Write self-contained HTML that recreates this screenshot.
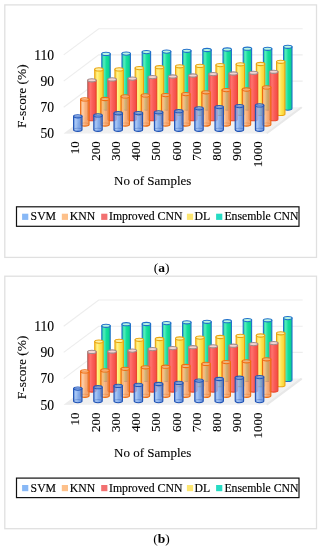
<!DOCTYPE html>
<html><head><meta charset="utf-8"><style>
html,body{margin:0;padding:0;background:#fff;width:323px;height:550px;overflow:hidden}
svg{display:block;will-change:transform}
.t{font-family:"Liberation Serif",serif;font-size:13px;fill:#000;stroke:#000;stroke-width:0.12px}
.l{font-family:"Liberation Serif",serif;font-size:11.75px;fill:#000;stroke:#000;stroke-width:0.15px}
.cap{font-family:"Liberation Serif",serif;font-size:13.5px;fill:#000}
</style></head><body>
<svg width="323" height="550" viewBox="0 0 323 550">
<defs><linearGradient id="fl" x1="0" y1="0" x2="0" y2="1"><stop offset="0" stop-color="#f3f3f3"/><stop offset="1" stop-color="#f0f0f0"/></linearGradient><linearGradient id="g0" x1="0" x2="1" y1="0" y2="0"><stop offset="0" stop-color="#5a90e6"/><stop offset="0.25" stop-color="#98bcf4"/><stop offset="0.55" stop-color="#6c9ce8"/><stop offset="1" stop-color="#4a7cd6"/></linearGradient><linearGradient id="g1" x1="0" x2="1" y1="0" y2="0"><stop offset="0" stop-color="#f7a060"/><stop offset="0.25" stop-color="#fcc496"/><stop offset="0.55" stop-color="#f89e5e"/><stop offset="1" stop-color="#f08a48"/></linearGradient><linearGradient id="g2" x1="0" x2="1" y1="0" y2="0"><stop offset="0" stop-color="#ee4c48"/><stop offset="0.3" stop-color="#ff726e"/><stop offset="0.6" stop-color="#f95c58"/><stop offset="1" stop-color="#f04a44"/></linearGradient><linearGradient id="g3" x1="0" x2="1" y1="0" y2="0"><stop offset="0" stop-color="#fcd23a"/><stop offset="0.3" stop-color="#fff28a"/><stop offset="0.6" stop-color="#ffe450"/><stop offset="1" stop-color="#f8cc30"/></linearGradient><linearGradient id="g4" x1="0" x2="1" y1="0" y2="0"><stop offset="0" stop-color="#1ccc94"/><stop offset="0.25" stop-color="#56ecbc"/><stop offset="0.55" stop-color="#12e09c"/><stop offset="1" stop-color="#0cca8c"/></linearGradient></defs>
<g transform="translate(0,0)">
<rect x="4.8" y="4.9" width="311.7" height="252.5" fill="#fff" stroke="#e0e0e0" stroke-width="1.3"/>
<polygon points="63.7,133.5 267.7,133.5 302.7,107.3 98.7,107.3" fill="url(#fl)"/><polygon points="63.7,133.5 72,133.5 98.7,113 98.7,107.3" fill="#ebebeb" opacity="0.8"/><line x1="266.7" y1="133.3" x2="301.7" y2="107.3" stroke="#e8e8e8" stroke-width="2"/>
<polyline points="63.7,54.9 98.7,28.7 302.7,28.7" fill="none" stroke="#ededed" stroke-width="1.1"/>
<polyline points="63.7,81.1 98.7,54.9 302.7,54.9" fill="none" stroke="#ededed" stroke-width="1.1"/>
<polyline points="63.7,107.3 98.7,81.1 302.7,81.1" fill="none" stroke="#ededed" stroke-width="1.1"/>
<path d="M101.80,53.90 L101.80,108.60 A4.20,1.6 0 0 0 110.20,108.60 L110.20,53.90 Z" fill="url(#g4)" fill-opacity="1.0" stroke="#1f6fca" stroke-width="1.1" stroke-opacity="1"/><ellipse cx="106.00" cy="53.90" rx="4.20" ry="1.6" fill="#b8f6e0" fill-opacity="1" stroke="#1f6fca" stroke-width="1.1"/>
<path d="M122.00,53.60 L122.00,108.60 A4.20,1.6 0 0 0 130.40,108.60 L130.40,53.60 Z" fill="url(#g4)" fill-opacity="1.0" stroke="#1f6fca" stroke-width="1.1" stroke-opacity="1"/><ellipse cx="126.20" cy="53.60" rx="4.20" ry="1.6" fill="#b8f6e0" fill-opacity="1" stroke="#1f6fca" stroke-width="1.1"/>
<path d="M142.20,52.10 L142.20,108.60 A4.20,1.6 0 0 0 150.60,108.60 L150.60,52.10 Z" fill="url(#g4)" fill-opacity="1.0" stroke="#1f6fca" stroke-width="1.1" stroke-opacity="1"/><ellipse cx="146.40" cy="52.10" rx="4.20" ry="1.6" fill="#b8f6e0" fill-opacity="1" stroke="#1f6fca" stroke-width="1.1"/>
<path d="M162.40,51.60 L162.40,108.60 A4.20,1.6 0 0 0 170.80,108.60 L170.80,51.60 Z" fill="url(#g4)" fill-opacity="1.0" stroke="#1f6fca" stroke-width="1.1" stroke-opacity="1"/><ellipse cx="166.60" cy="51.60" rx="4.20" ry="1.6" fill="#b8f6e0" fill-opacity="1" stroke="#1f6fca" stroke-width="1.1"/>
<path d="M182.60,50.80 L182.60,108.60 A4.20,1.6 0 0 0 191.00,108.60 L191.00,50.80 Z" fill="url(#g4)" fill-opacity="1.0" stroke="#1f6fca" stroke-width="1.1" stroke-opacity="1"/><ellipse cx="186.80" cy="50.80" rx="4.20" ry="1.6" fill="#b8f6e0" fill-opacity="1" stroke="#1f6fca" stroke-width="1.1"/>
<path d="M202.80,50.00 L202.80,108.60 A4.20,1.6 0 0 0 211.20,108.60 L211.20,50.00 Z" fill="url(#g4)" fill-opacity="1.0" stroke="#1f6fca" stroke-width="1.1" stroke-opacity="1"/><ellipse cx="207.00" cy="50.00" rx="4.20" ry="1.6" fill="#b8f6e0" fill-opacity="1" stroke="#1f6fca" stroke-width="1.1"/>
<path d="M223.00,49.50 L223.00,108.60 A4.20,1.6 0 0 0 231.40,108.60 L231.40,49.50 Z" fill="url(#g4)" fill-opacity="1.0" stroke="#1f6fca" stroke-width="1.1" stroke-opacity="1"/><ellipse cx="227.20" cy="49.50" rx="4.20" ry="1.6" fill="#b8f6e0" fill-opacity="1" stroke="#1f6fca" stroke-width="1.1"/>
<path d="M243.20,48.70 L243.20,108.60 A4.20,1.6 0 0 0 251.60,108.60 L251.60,48.70 Z" fill="url(#g4)" fill-opacity="1.0" stroke="#1f6fca" stroke-width="1.1" stroke-opacity="1"/><ellipse cx="247.40" cy="48.70" rx="4.20" ry="1.6" fill="#b8f6e0" fill-opacity="1" stroke="#1f6fca" stroke-width="1.1"/>
<path d="M263.40,48.80 L263.40,108.60 A4.20,1.6 0 0 0 271.80,108.60 L271.80,48.80 Z" fill="url(#g4)" fill-opacity="1.0" stroke="#1f6fca" stroke-width="1.1" stroke-opacity="1"/><ellipse cx="267.60" cy="48.80" rx="4.20" ry="1.6" fill="#b8f6e0" fill-opacity="1" stroke="#1f6fca" stroke-width="1.1"/>
<path d="M283.60,46.80 L283.60,108.60 A4.20,1.6 0 0 0 292.00,108.60 L292.00,46.80 Z" fill="url(#g4)" fill-opacity="1.0" stroke="#1f6fca" stroke-width="1.1" stroke-opacity="1"/><ellipse cx="287.80" cy="46.80" rx="4.20" ry="1.6" fill="#b8f6e0" fill-opacity="1" stroke="#1f6fca" stroke-width="1.1"/>
<path d="M94.75,69.40 L94.75,113.90 A4.20,1.6 0 0 0 103.15,113.90 L103.15,69.40 Z" fill="url(#g3)" fill-opacity="1.0" stroke="#e9a410" stroke-width="1.1" stroke-opacity="1"/><ellipse cx="98.95" cy="69.40" rx="4.20" ry="1.6" fill="#fff0a0" fill-opacity="1" stroke="#e9a410" stroke-width="1.1"/>
<path d="M114.95,69.40 L114.95,113.90 A4.20,1.6 0 0 0 123.35,113.90 L123.35,69.40 Z" fill="url(#g3)" fill-opacity="1.0" stroke="#e9a410" stroke-width="1.1" stroke-opacity="1"/><ellipse cx="119.15" cy="69.40" rx="4.20" ry="1.6" fill="#fff0a0" fill-opacity="1" stroke="#e9a410" stroke-width="1.1"/>
<path d="M135.15,68.10 L135.15,113.90 A4.20,1.6 0 0 0 143.55,113.90 L143.55,68.10 Z" fill="url(#g3)" fill-opacity="1.0" stroke="#e9a410" stroke-width="1.1" stroke-opacity="1"/><ellipse cx="139.35" cy="68.10" rx="4.20" ry="1.6" fill="#fff0a0" fill-opacity="1" stroke="#e9a410" stroke-width="1.1"/>
<path d="M155.35,67.20 L155.35,113.90 A4.20,1.6 0 0 0 163.75,113.90 L163.75,67.20 Z" fill="url(#g3)" fill-opacity="1.0" stroke="#e9a410" stroke-width="1.1" stroke-opacity="1"/><ellipse cx="159.55" cy="67.20" rx="4.20" ry="1.6" fill="#fff0a0" fill-opacity="1" stroke="#e9a410" stroke-width="1.1"/>
<path d="M175.55,66.30 L175.55,113.90 A4.20,1.6 0 0 0 183.95,113.90 L183.95,66.30 Z" fill="url(#g3)" fill-opacity="1.0" stroke="#e9a410" stroke-width="1.1" stroke-opacity="1"/><ellipse cx="179.75" cy="66.30" rx="4.20" ry="1.6" fill="#fff0a0" fill-opacity="1" stroke="#e9a410" stroke-width="1.1"/>
<path d="M195.75,65.90 L195.75,113.90 A4.20,1.6 0 0 0 204.15,113.90 L204.15,65.90 Z" fill="url(#g3)" fill-opacity="1.0" stroke="#e9a410" stroke-width="1.1" stroke-opacity="1"/><ellipse cx="199.95" cy="65.90" rx="4.20" ry="1.6" fill="#fff0a0" fill-opacity="1" stroke="#e9a410" stroke-width="1.1"/>
<path d="M215.95,65.10 L215.95,113.90 A4.20,1.6 0 0 0 224.35,113.90 L224.35,65.10 Z" fill="url(#g3)" fill-opacity="1.0" stroke="#e9a410" stroke-width="1.1" stroke-opacity="1"/><ellipse cx="220.15" cy="65.10" rx="4.20" ry="1.6" fill="#fff0a0" fill-opacity="1" stroke="#e9a410" stroke-width="1.1"/>
<path d="M236.15,64.30 L236.15,113.90 A4.20,1.6 0 0 0 244.55,113.90 L244.55,64.30 Z" fill="url(#g3)" fill-opacity="1.0" stroke="#e9a410" stroke-width="1.1" stroke-opacity="1"/><ellipse cx="240.35" cy="64.30" rx="4.20" ry="1.6" fill="#fff0a0" fill-opacity="1" stroke="#e9a410" stroke-width="1.1"/>
<path d="M256.35,64.00 L256.35,113.90 A4.20,1.6 0 0 0 264.75,113.90 L264.75,64.00 Z" fill="url(#g3)" fill-opacity="1.0" stroke="#e9a410" stroke-width="1.1" stroke-opacity="1"/><ellipse cx="260.55" cy="64.00" rx="4.20" ry="1.6" fill="#fff0a0" fill-opacity="1" stroke="#e9a410" stroke-width="1.1"/>
<path d="M276.55,61.80 L276.55,113.90 A4.20,1.6 0 0 0 284.95,113.90 L284.95,61.80 Z" fill="url(#g3)" fill-opacity="1.0" stroke="#e9a410" stroke-width="1.1" stroke-opacity="1"/><ellipse cx="280.75" cy="61.80" rx="4.20" ry="1.6" fill="#fff0a0" fill-opacity="1" stroke="#e9a410" stroke-width="1.1"/>
<path d="M87.70,80.30 L87.70,119.20 A4.20,1.6 0 0 0 96.10,119.20 L96.10,80.30 Z" fill="url(#g2)" fill-opacity="1.0" stroke="#ec4628" stroke-width="1.1" stroke-opacity="1"/><line x1="87.70" y1="80.30" x2="87.70" y2="119.20" stroke="#b08484" stroke-width="1.1"/><ellipse cx="91.90" cy="80.30" rx="4.20" ry="1.6" fill="#f2d4d2" fill-opacity="1" stroke="#a08c8c" stroke-width="1.1"/>
<path d="M107.90,79.40 L107.90,119.20 A4.20,1.6 0 0 0 116.30,119.20 L116.30,79.40 Z" fill="url(#g2)" fill-opacity="1.0" stroke="#ec4628" stroke-width="1.1" stroke-opacity="1"/><line x1="107.90" y1="79.40" x2="107.90" y2="119.20" stroke="#b08484" stroke-width="1.1"/><ellipse cx="112.10" cy="79.40" rx="4.20" ry="1.6" fill="#f2d4d2" fill-opacity="1" stroke="#a08c8c" stroke-width="1.1"/>
<path d="M128.10,78.60 L128.10,119.20 A4.20,1.6 0 0 0 136.50,119.20 L136.50,78.60 Z" fill="url(#g2)" fill-opacity="1.0" stroke="#ec4628" stroke-width="1.1" stroke-opacity="1"/><line x1="128.10" y1="78.60" x2="128.10" y2="119.20" stroke="#b08484" stroke-width="1.1"/><ellipse cx="132.30" cy="78.60" rx="4.20" ry="1.6" fill="#f2d4d2" fill-opacity="1" stroke="#a08c8c" stroke-width="1.1"/>
<path d="M148.30,77.10 L148.30,119.20 A4.20,1.6 0 0 0 156.70,119.20 L156.70,77.10 Z" fill="url(#g2)" fill-opacity="1.0" stroke="#ec4628" stroke-width="1.1" stroke-opacity="1"/><line x1="148.30" y1="77.10" x2="148.30" y2="119.20" stroke="#b08484" stroke-width="1.1"/><ellipse cx="152.50" cy="77.10" rx="4.20" ry="1.6" fill="#f2d4d2" fill-opacity="1" stroke="#a08c8c" stroke-width="1.1"/>
<path d="M168.50,76.50 L168.50,119.20 A4.20,1.6 0 0 0 176.90,119.20 L176.90,76.50 Z" fill="url(#g2)" fill-opacity="1.0" stroke="#ec4628" stroke-width="1.1" stroke-opacity="1"/><line x1="168.50" y1="76.50" x2="168.50" y2="119.20" stroke="#b08484" stroke-width="1.1"/><ellipse cx="172.70" cy="76.50" rx="4.20" ry="1.6" fill="#f2d4d2" fill-opacity="1" stroke="#a08c8c" stroke-width="1.1"/>
<path d="M188.70,75.50 L188.70,119.20 A4.20,1.6 0 0 0 197.10,119.20 L197.10,75.50 Z" fill="url(#g2)" fill-opacity="1.0" stroke="#ec4628" stroke-width="1.1" stroke-opacity="1"/><line x1="188.70" y1="75.50" x2="188.70" y2="119.20" stroke="#b08484" stroke-width="1.1"/><ellipse cx="192.90" cy="75.50" rx="4.20" ry="1.6" fill="#f2d4d2" fill-opacity="1" stroke="#a08c8c" stroke-width="1.1"/>
<path d="M208.90,74.10 L208.90,119.20 A4.20,1.6 0 0 0 217.30,119.20 L217.30,74.10 Z" fill="url(#g2)" fill-opacity="1.0" stroke="#ec4628" stroke-width="1.1" stroke-opacity="1"/><line x1="208.90" y1="74.10" x2="208.90" y2="119.20" stroke="#b08484" stroke-width="1.1"/><ellipse cx="213.10" cy="74.10" rx="4.20" ry="1.6" fill="#f2d4d2" fill-opacity="1" stroke="#a08c8c" stroke-width="1.1"/>
<path d="M229.10,73.50 L229.10,119.20 A4.20,1.6 0 0 0 237.50,119.20 L237.50,73.50 Z" fill="url(#g2)" fill-opacity="1.0" stroke="#ec4628" stroke-width="1.1" stroke-opacity="1"/><line x1="229.10" y1="73.50" x2="229.10" y2="119.20" stroke="#b08484" stroke-width="1.1"/><ellipse cx="233.30" cy="73.50" rx="4.20" ry="1.6" fill="#f2d4d2" fill-opacity="1" stroke="#a08c8c" stroke-width="1.1"/>
<path d="M249.30,72.80 L249.30,119.20 A4.20,1.6 0 0 0 257.70,119.20 L257.70,72.80 Z" fill="url(#g2)" fill-opacity="1.0" stroke="#ec4628" stroke-width="1.1" stroke-opacity="1"/><line x1="249.30" y1="72.80" x2="249.30" y2="119.20" stroke="#b08484" stroke-width="1.1"/><ellipse cx="253.50" cy="72.80" rx="4.20" ry="1.6" fill="#f2d4d2" fill-opacity="1" stroke="#a08c8c" stroke-width="1.1"/>
<path d="M269.50,71.80 L269.50,119.20 A4.20,1.6 0 0 0 277.90,119.20 L277.90,71.80 Z" fill="url(#g2)" fill-opacity="1.0" stroke="#ec4628" stroke-width="1.1" stroke-opacity="1"/><line x1="269.50" y1="71.80" x2="269.50" y2="119.20" stroke="#b08484" stroke-width="1.1"/><ellipse cx="273.70" cy="71.80" rx="4.20" ry="1.6" fill="#f2d4d2" fill-opacity="1" stroke="#a08c8c" stroke-width="1.1"/>
<path d="M80.65,99.40 L80.65,124.50 A4.20,1.6 0 0 0 89.05,124.50 L89.05,99.40 Z" fill="url(#g1)" fill-opacity="0.82" stroke="#ee6a0e" stroke-width="1.1" stroke-opacity="1"/><path d="M80.65,124.50 A4.20,1.6 0 0 1 89.05,124.50" fill="none" stroke="#ee6a0e" stroke-width="0.6" opacity="0.5"/><ellipse cx="84.85" cy="99.40" rx="4.20" ry="1.6" fill="#fcd0ac" fill-opacity="0.6" stroke="#f06c10" stroke-width="1.1"/>
<path d="M100.85,99.00 L100.85,124.50 A4.20,1.6 0 0 0 109.25,124.50 L109.25,99.00 Z" fill="url(#g1)" fill-opacity="0.82" stroke="#ee6a0e" stroke-width="1.1" stroke-opacity="1"/><path d="M100.85,124.50 A4.20,1.6 0 0 1 109.25,124.50" fill="none" stroke="#ee6a0e" stroke-width="0.6" opacity="0.5"/><ellipse cx="105.05" cy="99.00" rx="4.20" ry="1.6" fill="#fcd0ac" fill-opacity="0.6" stroke="#f06c10" stroke-width="1.1"/>
<path d="M121.05,96.40 L121.05,124.50 A4.20,1.6 0 0 0 129.45,124.50 L129.45,96.40 Z" fill="url(#g1)" fill-opacity="0.82" stroke="#ee6a0e" stroke-width="1.1" stroke-opacity="1"/><path d="M121.05,124.50 A4.20,1.6 0 0 1 129.45,124.50" fill="none" stroke="#ee6a0e" stroke-width="0.6" opacity="0.5"/><ellipse cx="125.25" cy="96.40" rx="4.20" ry="1.6" fill="#fcd0ac" fill-opacity="0.6" stroke="#f06c10" stroke-width="1.1"/>
<path d="M141.25,95.40 L141.25,124.50 A4.20,1.6 0 0 0 149.65,124.50 L149.65,95.40 Z" fill="url(#g1)" fill-opacity="0.82" stroke="#ee6a0e" stroke-width="1.1" stroke-opacity="1"/><path d="M141.25,124.50 A4.20,1.6 0 0 1 149.65,124.50" fill="none" stroke="#ee6a0e" stroke-width="0.6" opacity="0.5"/><ellipse cx="145.45" cy="95.40" rx="4.20" ry="1.6" fill="#fcd0ac" fill-opacity="0.6" stroke="#f06c10" stroke-width="1.1"/>
<path d="M161.45,95.10 L161.45,124.50 A4.20,1.6 0 0 0 169.85,124.50 L169.85,95.10 Z" fill="url(#g1)" fill-opacity="0.82" stroke="#ee6a0e" stroke-width="1.1" stroke-opacity="1"/><path d="M161.45,124.50 A4.20,1.6 0 0 1 169.85,124.50" fill="none" stroke="#ee6a0e" stroke-width="0.6" opacity="0.5"/><ellipse cx="165.65" cy="95.10" rx="4.20" ry="1.6" fill="#fcd0ac" fill-opacity="0.6" stroke="#f06c10" stroke-width="1.1"/>
<path d="M181.65,94.10 L181.65,124.50 A4.20,1.6 0 0 0 190.05,124.50 L190.05,94.10 Z" fill="url(#g1)" fill-opacity="0.82" stroke="#ee6a0e" stroke-width="1.1" stroke-opacity="1"/><path d="M181.65,124.50 A4.20,1.6 0 0 1 190.05,124.50" fill="none" stroke="#ee6a0e" stroke-width="0.6" opacity="0.5"/><ellipse cx="185.85" cy="94.10" rx="4.20" ry="1.6" fill="#fcd0ac" fill-opacity="0.6" stroke="#f06c10" stroke-width="1.1"/>
<path d="M201.85,92.30 L201.85,124.50 A4.20,1.6 0 0 0 210.25,124.50 L210.25,92.30 Z" fill="url(#g1)" fill-opacity="0.82" stroke="#ee6a0e" stroke-width="1.1" stroke-opacity="1"/><path d="M201.85,124.50 A4.20,1.6 0 0 1 210.25,124.50" fill="none" stroke="#ee6a0e" stroke-width="0.6" opacity="0.5"/><ellipse cx="206.05" cy="92.30" rx="4.20" ry="1.6" fill="#fcd0ac" fill-opacity="0.6" stroke="#f06c10" stroke-width="1.1"/>
<path d="M222.05,90.10 L222.05,124.50 A4.20,1.6 0 0 0 230.45,124.50 L230.45,90.10 Z" fill="url(#g1)" fill-opacity="0.82" stroke="#ee6a0e" stroke-width="1.1" stroke-opacity="1"/><path d="M222.05,124.50 A4.20,1.6 0 0 1 230.45,124.50" fill="none" stroke="#ee6a0e" stroke-width="0.6" opacity="0.5"/><ellipse cx="226.25" cy="90.10" rx="4.20" ry="1.6" fill="#fcd0ac" fill-opacity="0.6" stroke="#f06c10" stroke-width="1.1"/>
<path d="M242.25,89.50 L242.25,124.50 A4.20,1.6 0 0 0 250.65,124.50 L250.65,89.50 Z" fill="url(#g1)" fill-opacity="0.82" stroke="#ee6a0e" stroke-width="1.1" stroke-opacity="1"/><path d="M242.25,124.50 A4.20,1.6 0 0 1 250.65,124.50" fill="none" stroke="#ee6a0e" stroke-width="0.6" opacity="0.5"/><ellipse cx="246.45" cy="89.50" rx="4.20" ry="1.6" fill="#fcd0ac" fill-opacity="0.6" stroke="#f06c10" stroke-width="1.1"/>
<path d="M262.45,87.40 L262.45,124.50 A4.20,1.6 0 0 0 270.85,124.50 L270.85,87.40 Z" fill="url(#g1)" fill-opacity="0.82" stroke="#ee6a0e" stroke-width="1.1" stroke-opacity="1"/><path d="M262.45,124.50 A4.20,1.6 0 0 1 270.85,124.50" fill="none" stroke="#ee6a0e" stroke-width="0.6" opacity="0.5"/><ellipse cx="266.65" cy="87.40" rx="4.20" ry="1.6" fill="#fcd0ac" fill-opacity="0.6" stroke="#f06c10" stroke-width="1.1"/>
<path d="M73.60,116.30 L73.60,129.80 A4.20,1.6 0 0 0 82.00,129.80 L82.00,116.30 Z" fill="url(#g0)" fill-opacity="0.8" stroke="#1f52b4" stroke-width="1.1" stroke-opacity="1"/><path d="M73.60,129.80 A4.20,1.6 0 0 1 82.00,129.80" fill="none" stroke="#1f52b4" stroke-width="0.6" opacity="0.5"/><ellipse cx="77.80" cy="116.30" rx="4.20" ry="1.6" fill="#a0c0f0" fill-opacity="0.55" stroke="#2256ba" stroke-width="1.1"/>
<path d="M93.80,115.40 L93.80,129.80 A4.20,1.6 0 0 0 102.20,129.80 L102.20,115.40 Z" fill="url(#g0)" fill-opacity="0.8" stroke="#1f52b4" stroke-width="1.1" stroke-opacity="1"/><path d="M93.80,129.80 A4.20,1.6 0 0 1 102.20,129.80" fill="none" stroke="#1f52b4" stroke-width="0.6" opacity="0.5"/><ellipse cx="98.00" cy="115.40" rx="4.20" ry="1.6" fill="#a0c0f0" fill-opacity="0.55" stroke="#2256ba" stroke-width="1.1"/>
<path d="M114.00,113.20 L114.00,129.80 A4.20,1.6 0 0 0 122.40,129.80 L122.40,113.20 Z" fill="url(#g0)" fill-opacity="0.8" stroke="#1f52b4" stroke-width="1.1" stroke-opacity="1"/><path d="M114.00,129.80 A4.20,1.6 0 0 1 122.40,129.80" fill="none" stroke="#1f52b4" stroke-width="0.6" opacity="0.5"/><ellipse cx="118.20" cy="113.20" rx="4.20" ry="1.6" fill="#a0c0f0" fill-opacity="0.55" stroke="#2256ba" stroke-width="1.1"/>
<path d="M134.20,113.10 L134.20,129.80 A4.20,1.6 0 0 0 142.60,129.80 L142.60,113.10 Z" fill="url(#g0)" fill-opacity="0.8" stroke="#1f52b4" stroke-width="1.1" stroke-opacity="1"/><path d="M134.20,129.80 A4.20,1.6 0 0 1 142.60,129.80" fill="none" stroke="#1f52b4" stroke-width="0.6" opacity="0.5"/><ellipse cx="138.40" cy="113.10" rx="4.20" ry="1.6" fill="#a0c0f0" fill-opacity="0.55" stroke="#2256ba" stroke-width="1.1"/>
<path d="M154.40,112.30 L154.40,129.80 A4.20,1.6 0 0 0 162.80,129.80 L162.80,112.30 Z" fill="url(#g0)" fill-opacity="0.8" stroke="#1f52b4" stroke-width="1.1" stroke-opacity="1"/><path d="M154.40,129.80 A4.20,1.6 0 0 1 162.80,129.80" fill="none" stroke="#1f52b4" stroke-width="0.6" opacity="0.5"/><ellipse cx="158.60" cy="112.30" rx="4.20" ry="1.6" fill="#a0c0f0" fill-opacity="0.55" stroke="#2256ba" stroke-width="1.1"/>
<path d="M174.60,111.20 L174.60,129.80 A4.20,1.6 0 0 0 183.00,129.80 L183.00,111.20 Z" fill="url(#g0)" fill-opacity="0.8" stroke="#1f52b4" stroke-width="1.1" stroke-opacity="1"/><path d="M174.60,129.80 A4.20,1.6 0 0 1 183.00,129.80" fill="none" stroke="#1f52b4" stroke-width="0.6" opacity="0.5"/><ellipse cx="178.80" cy="111.20" rx="4.20" ry="1.6" fill="#a0c0f0" fill-opacity="0.55" stroke="#2256ba" stroke-width="1.1"/>
<path d="M194.80,108.30 L194.80,129.80 A4.20,1.6 0 0 0 203.20,129.80 L203.20,108.30 Z" fill="url(#g0)" fill-opacity="0.8" stroke="#1f52b4" stroke-width="1.1" stroke-opacity="1"/><path d="M194.80,129.80 A4.20,1.6 0 0 1 203.20,129.80" fill="none" stroke="#1f52b4" stroke-width="0.6" opacity="0.5"/><ellipse cx="199.00" cy="108.30" rx="4.20" ry="1.6" fill="#a0c0f0" fill-opacity="0.55" stroke="#2256ba" stroke-width="1.1"/>
<path d="M215.00,107.10 L215.00,129.80 A4.20,1.6 0 0 0 223.40,129.80 L223.40,107.10 Z" fill="url(#g0)" fill-opacity="0.8" stroke="#1f52b4" stroke-width="1.1" stroke-opacity="1"/><path d="M215.00,129.80 A4.20,1.6 0 0 1 223.40,129.80" fill="none" stroke="#1f52b4" stroke-width="0.6" opacity="0.5"/><ellipse cx="219.20" cy="107.10" rx="4.20" ry="1.6" fill="#a0c0f0" fill-opacity="0.55" stroke="#2256ba" stroke-width="1.1"/>
<path d="M235.20,106.10 L235.20,129.80 A4.20,1.6 0 0 0 243.60,129.80 L243.60,106.10 Z" fill="url(#g0)" fill-opacity="0.8" stroke="#1f52b4" stroke-width="1.1" stroke-opacity="1"/><path d="M235.20,129.80 A4.20,1.6 0 0 1 243.60,129.80" fill="none" stroke="#1f52b4" stroke-width="0.6" opacity="0.5"/><ellipse cx="239.40" cy="106.10" rx="4.20" ry="1.6" fill="#a0c0f0" fill-opacity="0.55" stroke="#2256ba" stroke-width="1.1"/>
<path d="M255.40,105.40 L255.40,129.80 A4.20,1.6 0 0 0 263.80,129.80 L263.80,105.40 Z" fill="url(#g0)" fill-opacity="0.8" stroke="#1f52b4" stroke-width="1.1" stroke-opacity="1"/><path d="M255.40,129.80 A4.20,1.6 0 0 1 263.80,129.80" fill="none" stroke="#1f52b4" stroke-width="0.6" opacity="0.5"/><ellipse cx="259.60" cy="105.40" rx="4.20" ry="1.6" fill="#a0c0f0" fill-opacity="0.55" stroke="#2256ba" stroke-width="1.1"/>
<text x="54.1" y="59.5" text-anchor="end" class="t" style="font-size:13.6px">110</text>
<text x="54.1" y="85.8" text-anchor="end" class="t" style="font-size:13.6px">90</text>
<text x="54.1" y="112.1" text-anchor="end" class="t" style="font-size:13.6px">70</text>
<text x="54.1" y="138.4" text-anchor="end" class="t" style="font-size:13.6px">50</text>
<text transform="translate(25.9,96.1) rotate(-90)" text-anchor="middle" class="t" style="font-size:13.4px">F-score (%)</text>
<text transform="translate(79.35,141.2) rotate(-90)" text-anchor="end" class="t">10</text>
<text transform="translate(99.59,141.2) rotate(-90)" text-anchor="end" class="t">200</text>
<text transform="translate(119.83,141.2) rotate(-90)" text-anchor="end" class="t">300</text>
<text transform="translate(140.07,141.2) rotate(-90)" text-anchor="end" class="t">400</text>
<text transform="translate(160.31,141.2) rotate(-90)" text-anchor="end" class="t">500</text>
<text transform="translate(180.55,141.2) rotate(-90)" text-anchor="end" class="t">600</text>
<text transform="translate(200.79,141.2) rotate(-90)" text-anchor="end" class="t">700</text>
<text transform="translate(221.03,141.2) rotate(-90)" text-anchor="end" class="t">800</text>
<text transform="translate(241.27,141.2) rotate(-90)" text-anchor="end" class="t">900</text>
<text transform="translate(261.51,141.2) rotate(-90)" text-anchor="end" class="t">1000</text>
<text x="152.75" y="185.3" text-anchor="middle" class="t">No of Samples</text>
<rect x="16.5" y="206.8" width="282.5" height="19.5" fill="#fff" stroke="#111" stroke-width="1.2"/>
<rect x="22.1" y="213.7" width="6.2" height="6.2" fill="#88b8f6"/>
<text x="30.6" y="220.3" class="l">SVM</text>
<rect x="61.8" y="213.7" width="6.2" height="6.2" fill="#fdc08a"/>
<text x="69.8" y="220.3" class="l">KNN</text>
<rect x="101.2" y="213.7" width="6.2" height="6.2" fill="#f27070"/>
<text x="109" y="220.3" class="l">Improved CNN</text>
<rect x="186.9" y="213.7" width="6.2" height="6.2" fill="#fde670"/>
<text x="194.5" y="220.3" class="l">DL</text>
<rect x="216.1" y="213.7" width="6.2" height="6.2" fill="#26dcc4"/>
<text x="224.4" y="220.3" class="l">Ensemble CNN</text>
</g>
<text x="161.5" y="271.8" text-anchor="middle" class="cap">(<tspan font-weight="bold">a</tspan>)</text>
<g transform="translate(0,271.3)">
<rect x="4.8" y="4.9" width="311.7" height="252.5" fill="#fff" stroke="#e0e0e0" stroke-width="1.3"/>
<polygon points="63.7,133.5 267.7,133.5 302.7,107.3 98.7,107.3" fill="url(#fl)"/><polygon points="63.7,133.5 72,133.5 98.7,113 98.7,107.3" fill="#ebebeb" opacity="0.8"/><line x1="266.7" y1="133.3" x2="301.7" y2="107.3" stroke="#e8e8e8" stroke-width="2"/>
<polyline points="63.7,54.9 98.7,28.7 302.7,28.7" fill="none" stroke="#ededed" stroke-width="1.1"/>
<polyline points="63.7,81.1 98.7,54.9 302.7,54.9" fill="none" stroke="#ededed" stroke-width="1.1"/>
<polyline points="63.7,107.3 98.7,81.1 302.7,81.1" fill="none" stroke="#ededed" stroke-width="1.1"/>
<path d="M101.80,54.50 L101.80,108.60 A4.20,1.6 0 0 0 110.20,108.60 L110.20,54.50 Z" fill="url(#g4)" fill-opacity="1.0" stroke="#1f6fca" stroke-width="1.1" stroke-opacity="1"/><ellipse cx="106.00" cy="54.50" rx="4.20" ry="1.6" fill="#b8f6e0" fill-opacity="1" stroke="#1f6fca" stroke-width="1.1"/>
<path d="M122.00,52.90 L122.00,108.60 A4.20,1.6 0 0 0 130.40,108.60 L130.40,52.90 Z" fill="url(#g4)" fill-opacity="1.0" stroke="#1f6fca" stroke-width="1.1" stroke-opacity="1"/><ellipse cx="126.20" cy="52.90" rx="4.20" ry="1.6" fill="#b8f6e0" fill-opacity="1" stroke="#1f6fca" stroke-width="1.1"/>
<path d="M142.20,52.70 L142.20,108.60 A4.20,1.6 0 0 0 150.60,108.60 L150.60,52.70 Z" fill="url(#g4)" fill-opacity="1.0" stroke="#1f6fca" stroke-width="1.1" stroke-opacity="1"/><ellipse cx="146.40" cy="52.70" rx="4.20" ry="1.6" fill="#b8f6e0" fill-opacity="1" stroke="#1f6fca" stroke-width="1.1"/>
<path d="M162.40,51.80 L162.40,108.60 A4.20,1.6 0 0 0 170.80,108.60 L170.80,51.80 Z" fill="url(#g4)" fill-opacity="1.0" stroke="#1f6fca" stroke-width="1.1" stroke-opacity="1"/><ellipse cx="166.60" cy="51.80" rx="4.20" ry="1.6" fill="#b8f6e0" fill-opacity="1" stroke="#1f6fca" stroke-width="1.1"/>
<path d="M182.60,51.00 L182.60,108.60 A4.20,1.6 0 0 0 191.00,108.60 L191.00,51.00 Z" fill="url(#g4)" fill-opacity="1.0" stroke="#1f6fca" stroke-width="1.1" stroke-opacity="1"/><ellipse cx="186.80" cy="51.00" rx="4.20" ry="1.6" fill="#b8f6e0" fill-opacity="1" stroke="#1f6fca" stroke-width="1.1"/>
<path d="M202.80,50.50 L202.80,108.60 A4.20,1.6 0 0 0 211.20,108.60 L211.20,50.50 Z" fill="url(#g4)" fill-opacity="1.0" stroke="#1f6fca" stroke-width="1.1" stroke-opacity="1"/><ellipse cx="207.00" cy="50.50" rx="4.20" ry="1.6" fill="#b8f6e0" fill-opacity="1" stroke="#1f6fca" stroke-width="1.1"/>
<path d="M223.00,49.90 L223.00,108.60 A4.20,1.6 0 0 0 231.40,108.60 L231.40,49.90 Z" fill="url(#g4)" fill-opacity="1.0" stroke="#1f6fca" stroke-width="1.1" stroke-opacity="1"/><ellipse cx="227.20" cy="49.90" rx="4.20" ry="1.6" fill="#b8f6e0" fill-opacity="1" stroke="#1f6fca" stroke-width="1.1"/>
<path d="M243.20,48.80 L243.20,108.60 A4.20,1.6 0 0 0 251.60,108.60 L251.60,48.80 Z" fill="url(#g4)" fill-opacity="1.0" stroke="#1f6fca" stroke-width="1.1" stroke-opacity="1"/><ellipse cx="247.40" cy="48.80" rx="4.20" ry="1.6" fill="#b8f6e0" fill-opacity="1" stroke="#1f6fca" stroke-width="1.1"/>
<path d="M263.40,49.00 L263.40,108.60 A4.20,1.6 0 0 0 271.80,108.60 L271.80,49.00 Z" fill="url(#g4)" fill-opacity="1.0" stroke="#1f6fca" stroke-width="1.1" stroke-opacity="1"/><ellipse cx="267.60" cy="49.00" rx="4.20" ry="1.6" fill="#b8f6e0" fill-opacity="1" stroke="#1f6fca" stroke-width="1.1"/>
<path d="M283.60,46.80 L283.60,108.60 A4.20,1.6 0 0 0 292.00,108.60 L292.00,46.80 Z" fill="url(#g4)" fill-opacity="1.0" stroke="#1f6fca" stroke-width="1.1" stroke-opacity="1"/><ellipse cx="287.80" cy="46.80" rx="4.20" ry="1.6" fill="#b8f6e0" fill-opacity="1" stroke="#1f6fca" stroke-width="1.1"/>
<path d="M94.75,70.30 L94.75,113.90 A4.20,1.6 0 0 0 103.15,113.90 L103.15,70.30 Z" fill="url(#g3)" fill-opacity="1.0" stroke="#e9a410" stroke-width="1.1" stroke-opacity="1"/><ellipse cx="98.95" cy="70.30" rx="4.20" ry="1.6" fill="#fff0a0" fill-opacity="1" stroke="#e9a410" stroke-width="1.1"/>
<path d="M114.95,69.60 L114.95,113.90 A4.20,1.6 0 0 0 123.35,113.90 L123.35,69.60 Z" fill="url(#g3)" fill-opacity="1.0" stroke="#e9a410" stroke-width="1.1" stroke-opacity="1"/><ellipse cx="119.15" cy="69.60" rx="4.20" ry="1.6" fill="#fff0a0" fill-opacity="1" stroke="#e9a410" stroke-width="1.1"/>
<path d="M135.15,68.50 L135.15,113.90 A4.20,1.6 0 0 0 143.55,113.90 L143.55,68.50 Z" fill="url(#g3)" fill-opacity="1.0" stroke="#e9a410" stroke-width="1.1" stroke-opacity="1"/><ellipse cx="139.35" cy="68.50" rx="4.20" ry="1.6" fill="#fff0a0" fill-opacity="1" stroke="#e9a410" stroke-width="1.1"/>
<path d="M155.35,67.70 L155.35,113.90 A4.20,1.6 0 0 0 163.75,113.90 L163.75,67.70 Z" fill="url(#g3)" fill-opacity="1.0" stroke="#e9a410" stroke-width="1.1" stroke-opacity="1"/><ellipse cx="159.55" cy="67.70" rx="4.20" ry="1.6" fill="#fff0a0" fill-opacity="1" stroke="#e9a410" stroke-width="1.1"/>
<path d="M175.55,67.20 L175.55,113.90 A4.20,1.6 0 0 0 183.95,113.90 L183.95,67.20 Z" fill="url(#g3)" fill-opacity="1.0" stroke="#e9a410" stroke-width="1.1" stroke-opacity="1"/><ellipse cx="179.75" cy="67.20" rx="4.20" ry="1.6" fill="#fff0a0" fill-opacity="1" stroke="#e9a410" stroke-width="1.1"/>
<path d="M195.75,66.30 L195.75,113.90 A4.20,1.6 0 0 0 204.15,113.90 L204.15,66.30 Z" fill="url(#g3)" fill-opacity="1.0" stroke="#e9a410" stroke-width="1.1" stroke-opacity="1"/><ellipse cx="199.95" cy="66.30" rx="4.20" ry="1.6" fill="#fff0a0" fill-opacity="1" stroke="#e9a410" stroke-width="1.1"/>
<path d="M215.95,65.70 L215.95,113.90 A4.20,1.6 0 0 0 224.35,113.90 L224.35,65.70 Z" fill="url(#g3)" fill-opacity="1.0" stroke="#e9a410" stroke-width="1.1" stroke-opacity="1"/><ellipse cx="220.15" cy="65.70" rx="4.20" ry="1.6" fill="#fff0a0" fill-opacity="1" stroke="#e9a410" stroke-width="1.1"/>
<path d="M236.15,64.60 L236.15,113.90 A4.20,1.6 0 0 0 244.55,113.90 L244.55,64.60 Z" fill="url(#g3)" fill-opacity="1.0" stroke="#e9a410" stroke-width="1.1" stroke-opacity="1"/><ellipse cx="240.35" cy="64.60" rx="4.20" ry="1.6" fill="#fff0a0" fill-opacity="1" stroke="#e9a410" stroke-width="1.1"/>
<path d="M256.35,64.20 L256.35,113.90 A4.20,1.6 0 0 0 264.75,113.90 L264.75,64.20 Z" fill="url(#g3)" fill-opacity="1.0" stroke="#e9a410" stroke-width="1.1" stroke-opacity="1"/><ellipse cx="260.55" cy="64.20" rx="4.20" ry="1.6" fill="#fff0a0" fill-opacity="1" stroke="#e9a410" stroke-width="1.1"/>
<path d="M276.55,62.00 L276.55,113.90 A4.20,1.6 0 0 0 284.95,113.90 L284.95,62.00 Z" fill="url(#g3)" fill-opacity="1.0" stroke="#e9a410" stroke-width="1.1" stroke-opacity="1"/><ellipse cx="280.75" cy="62.00" rx="4.20" ry="1.6" fill="#fff0a0" fill-opacity="1" stroke="#e9a410" stroke-width="1.1"/>
<path d="M87.70,80.60 L87.70,119.20 A4.20,1.6 0 0 0 96.10,119.20 L96.10,80.60 Z" fill="url(#g2)" fill-opacity="1.0" stroke="#ec4628" stroke-width="1.1" stroke-opacity="1"/><line x1="87.70" y1="80.60" x2="87.70" y2="119.20" stroke="#b08484" stroke-width="1.1"/><ellipse cx="91.90" cy="80.60" rx="4.20" ry="1.6" fill="#f2d4d2" fill-opacity="1" stroke="#a08c8c" stroke-width="1.1"/>
<path d="M107.90,80.20 L107.90,119.20 A4.20,1.6 0 0 0 116.30,119.20 L116.30,80.20 Z" fill="url(#g2)" fill-opacity="1.0" stroke="#ec4628" stroke-width="1.1" stroke-opacity="1"/><line x1="107.90" y1="80.20" x2="107.90" y2="119.20" stroke="#b08484" stroke-width="1.1"/><ellipse cx="112.10" cy="80.20" rx="4.20" ry="1.6" fill="#f2d4d2" fill-opacity="1" stroke="#a08c8c" stroke-width="1.1"/>
<path d="M128.10,79.30 L128.10,119.20 A4.20,1.6 0 0 0 136.50,119.20 L136.50,79.30 Z" fill="url(#g2)" fill-opacity="1.0" stroke="#ec4628" stroke-width="1.1" stroke-opacity="1"/><line x1="128.10" y1="79.30" x2="128.10" y2="119.20" stroke="#b08484" stroke-width="1.1"/><ellipse cx="132.30" cy="79.30" rx="4.20" ry="1.6" fill="#f2d4d2" fill-opacity="1" stroke="#a08c8c" stroke-width="1.1"/>
<path d="M148.30,77.80 L148.30,119.20 A4.20,1.6 0 0 0 156.70,119.20 L156.70,77.80 Z" fill="url(#g2)" fill-opacity="1.0" stroke="#ec4628" stroke-width="1.1" stroke-opacity="1"/><line x1="148.30" y1="77.80" x2="148.30" y2="119.20" stroke="#b08484" stroke-width="1.1"/><ellipse cx="152.50" cy="77.80" rx="4.20" ry="1.6" fill="#f2d4d2" fill-opacity="1" stroke="#a08c8c" stroke-width="1.1"/>
<path d="M168.50,76.80 L168.50,119.20 A4.20,1.6 0 0 0 176.90,119.20 L176.90,76.80 Z" fill="url(#g2)" fill-opacity="1.0" stroke="#ec4628" stroke-width="1.1" stroke-opacity="1"/><line x1="168.50" y1="76.80" x2="168.50" y2="119.20" stroke="#b08484" stroke-width="1.1"/><ellipse cx="172.70" cy="76.80" rx="4.20" ry="1.6" fill="#f2d4d2" fill-opacity="1" stroke="#a08c8c" stroke-width="1.1"/>
<path d="M188.70,75.90 L188.70,119.20 A4.20,1.6 0 0 0 197.10,119.20 L197.10,75.90 Z" fill="url(#g2)" fill-opacity="1.0" stroke="#ec4628" stroke-width="1.1" stroke-opacity="1"/><line x1="188.70" y1="75.90" x2="188.70" y2="119.20" stroke="#b08484" stroke-width="1.1"/><ellipse cx="192.90" cy="75.90" rx="4.20" ry="1.6" fill="#f2d4d2" fill-opacity="1" stroke="#a08c8c" stroke-width="1.1"/>
<path d="M208.90,75.00 L208.90,119.20 A4.20,1.6 0 0 0 217.30,119.20 L217.30,75.00 Z" fill="url(#g2)" fill-opacity="1.0" stroke="#ec4628" stroke-width="1.1" stroke-opacity="1"/><line x1="208.90" y1="75.00" x2="208.90" y2="119.20" stroke="#b08484" stroke-width="1.1"/><ellipse cx="213.10" cy="75.00" rx="4.20" ry="1.6" fill="#f2d4d2" fill-opacity="1" stroke="#a08c8c" stroke-width="1.1"/>
<path d="M229.10,74.40 L229.10,119.20 A4.20,1.6 0 0 0 237.50,119.20 L237.50,74.40 Z" fill="url(#g2)" fill-opacity="1.0" stroke="#ec4628" stroke-width="1.1" stroke-opacity="1"/><line x1="229.10" y1="74.40" x2="229.10" y2="119.20" stroke="#b08484" stroke-width="1.1"/><ellipse cx="233.30" cy="74.40" rx="4.20" ry="1.6" fill="#f2d4d2" fill-opacity="1" stroke="#a08c8c" stroke-width="1.1"/>
<path d="M249.30,72.80 L249.30,119.20 A4.20,1.6 0 0 0 257.70,119.20 L257.70,72.80 Z" fill="url(#g2)" fill-opacity="1.0" stroke="#ec4628" stroke-width="1.1" stroke-opacity="1"/><line x1="249.30" y1="72.80" x2="249.30" y2="119.20" stroke="#b08484" stroke-width="1.1"/><ellipse cx="253.50" cy="72.80" rx="4.20" ry="1.6" fill="#f2d4d2" fill-opacity="1" stroke="#a08c8c" stroke-width="1.1"/>
<path d="M269.50,71.80 L269.50,119.20 A4.20,1.6 0 0 0 277.90,119.20 L277.90,71.80 Z" fill="url(#g2)" fill-opacity="1.0" stroke="#ec4628" stroke-width="1.1" stroke-opacity="1"/><line x1="269.50" y1="71.80" x2="269.50" y2="119.20" stroke="#b08484" stroke-width="1.1"/><ellipse cx="273.70" cy="71.80" rx="4.20" ry="1.6" fill="#f2d4d2" fill-opacity="1" stroke="#a08c8c" stroke-width="1.1"/>
<path d="M80.65,100.10 L80.65,124.50 A4.20,1.6 0 0 0 89.05,124.50 L89.05,100.10 Z" fill="url(#g1)" fill-opacity="0.82" stroke="#ee6a0e" stroke-width="1.1" stroke-opacity="1"/><path d="M80.65,124.50 A4.20,1.6 0 0 1 89.05,124.50" fill="none" stroke="#ee6a0e" stroke-width="0.6" opacity="0.5"/><ellipse cx="84.85" cy="100.10" rx="4.20" ry="1.6" fill="#fcd0ac" fill-opacity="0.6" stroke="#f06c10" stroke-width="1.1"/>
<path d="M100.85,99.10 L100.85,124.50 A4.20,1.6 0 0 0 109.25,124.50 L109.25,99.10 Z" fill="url(#g1)" fill-opacity="0.82" stroke="#ee6a0e" stroke-width="1.1" stroke-opacity="1"/><path d="M100.85,124.50 A4.20,1.6 0 0 1 109.25,124.50" fill="none" stroke="#ee6a0e" stroke-width="0.6" opacity="0.5"/><ellipse cx="105.05" cy="99.10" rx="4.20" ry="1.6" fill="#fcd0ac" fill-opacity="0.6" stroke="#f06c10" stroke-width="1.1"/>
<path d="M121.05,97.50 L121.05,124.50 A4.20,1.6 0 0 0 129.45,124.50 L129.45,97.50 Z" fill="url(#g1)" fill-opacity="0.82" stroke="#ee6a0e" stroke-width="1.1" stroke-opacity="1"/><path d="M121.05,124.50 A4.20,1.6 0 0 1 129.45,124.50" fill="none" stroke="#ee6a0e" stroke-width="0.6" opacity="0.5"/><ellipse cx="125.25" cy="97.50" rx="4.20" ry="1.6" fill="#fcd0ac" fill-opacity="0.6" stroke="#f06c10" stroke-width="1.1"/>
<path d="M141.25,96.00 L141.25,124.50 A4.20,1.6 0 0 0 149.65,124.50 L149.65,96.00 Z" fill="url(#g1)" fill-opacity="0.82" stroke="#ee6a0e" stroke-width="1.1" stroke-opacity="1"/><path d="M141.25,124.50 A4.20,1.6 0 0 1 149.65,124.50" fill="none" stroke="#ee6a0e" stroke-width="0.6" opacity="0.5"/><ellipse cx="145.45" cy="96.00" rx="4.20" ry="1.6" fill="#fcd0ac" fill-opacity="0.6" stroke="#f06c10" stroke-width="1.1"/>
<path d="M161.45,95.40 L161.45,124.50 A4.20,1.6 0 0 0 169.85,124.50 L169.85,95.40 Z" fill="url(#g1)" fill-opacity="0.82" stroke="#ee6a0e" stroke-width="1.1" stroke-opacity="1"/><path d="M161.45,124.50 A4.20,1.6 0 0 1 169.85,124.50" fill="none" stroke="#ee6a0e" stroke-width="0.6" opacity="0.5"/><ellipse cx="165.65" cy="95.40" rx="4.20" ry="1.6" fill="#fcd0ac" fill-opacity="0.6" stroke="#f06c10" stroke-width="1.1"/>
<path d="M181.65,94.70 L181.65,124.50 A4.20,1.6 0 0 0 190.05,124.50 L190.05,94.70 Z" fill="url(#g1)" fill-opacity="0.82" stroke="#ee6a0e" stroke-width="1.1" stroke-opacity="1"/><path d="M181.65,124.50 A4.20,1.6 0 0 1 190.05,124.50" fill="none" stroke="#ee6a0e" stroke-width="0.6" opacity="0.5"/><ellipse cx="185.85" cy="94.70" rx="4.20" ry="1.6" fill="#fcd0ac" fill-opacity="0.6" stroke="#f06c10" stroke-width="1.1"/>
<path d="M201.85,92.60 L201.85,124.50 A4.20,1.6 0 0 0 210.25,124.50 L210.25,92.60 Z" fill="url(#g1)" fill-opacity="0.82" stroke="#ee6a0e" stroke-width="1.1" stroke-opacity="1"/><path d="M201.85,124.50 A4.20,1.6 0 0 1 210.25,124.50" fill="none" stroke="#ee6a0e" stroke-width="0.6" opacity="0.5"/><ellipse cx="206.05" cy="92.60" rx="4.20" ry="1.6" fill="#fcd0ac" fill-opacity="0.6" stroke="#f06c10" stroke-width="1.1"/>
<path d="M222.05,90.80 L222.05,124.50 A4.20,1.6 0 0 0 230.45,124.50 L230.45,90.80 Z" fill="url(#g1)" fill-opacity="0.82" stroke="#ee6a0e" stroke-width="1.1" stroke-opacity="1"/><path d="M222.05,124.50 A4.20,1.6 0 0 1 230.45,124.50" fill="none" stroke="#ee6a0e" stroke-width="0.6" opacity="0.5"/><ellipse cx="226.25" cy="90.80" rx="4.20" ry="1.6" fill="#fcd0ac" fill-opacity="0.6" stroke="#f06c10" stroke-width="1.1"/>
<path d="M242.25,90.00 L242.25,124.50 A4.20,1.6 0 0 0 250.65,124.50 L250.65,90.00 Z" fill="url(#g1)" fill-opacity="0.82" stroke="#ee6a0e" stroke-width="1.1" stroke-opacity="1"/><path d="M242.25,124.50 A4.20,1.6 0 0 1 250.65,124.50" fill="none" stroke="#ee6a0e" stroke-width="0.6" opacity="0.5"/><ellipse cx="246.45" cy="90.00" rx="4.20" ry="1.6" fill="#fcd0ac" fill-opacity="0.6" stroke="#f06c10" stroke-width="1.1"/>
<path d="M262.45,88.00 L262.45,124.50 A4.20,1.6 0 0 0 270.85,124.50 L270.85,88.00 Z" fill="url(#g1)" fill-opacity="0.82" stroke="#ee6a0e" stroke-width="1.1" stroke-opacity="1"/><path d="M262.45,124.50 A4.20,1.6 0 0 1 270.85,124.50" fill="none" stroke="#ee6a0e" stroke-width="0.6" opacity="0.5"/><ellipse cx="266.65" cy="88.00" rx="4.20" ry="1.6" fill="#fcd0ac" fill-opacity="0.6" stroke="#f06c10" stroke-width="1.1"/>
<path d="M73.60,117.30 L73.60,129.80 A4.20,1.6 0 0 0 82.00,129.80 L82.00,117.30 Z" fill="url(#g0)" fill-opacity="0.8" stroke="#1f52b4" stroke-width="1.1" stroke-opacity="1"/><path d="M73.60,129.80 A4.20,1.6 0 0 1 82.00,129.80" fill="none" stroke="#1f52b4" stroke-width="0.6" opacity="0.5"/><ellipse cx="77.80" cy="117.30" rx="4.20" ry="1.6" fill="#a0c0f0" fill-opacity="0.55" stroke="#2256ba" stroke-width="1.1"/>
<path d="M93.80,115.90 L93.80,129.80 A4.20,1.6 0 0 0 102.20,129.80 L102.20,115.90 Z" fill="url(#g0)" fill-opacity="0.8" stroke="#1f52b4" stroke-width="1.1" stroke-opacity="1"/><path d="M93.80,129.80 A4.20,1.6 0 0 1 102.20,129.80" fill="none" stroke="#1f52b4" stroke-width="0.6" opacity="0.5"/><ellipse cx="98.00" cy="115.90" rx="4.20" ry="1.6" fill="#a0c0f0" fill-opacity="0.55" stroke="#2256ba" stroke-width="1.1"/>
<path d="M114.00,114.60 L114.00,129.80 A4.20,1.6 0 0 0 122.40,129.80 L122.40,114.60 Z" fill="url(#g0)" fill-opacity="0.8" stroke="#1f52b4" stroke-width="1.1" stroke-opacity="1"/><path d="M114.00,129.80 A4.20,1.6 0 0 1 122.40,129.80" fill="none" stroke="#1f52b4" stroke-width="0.6" opacity="0.5"/><ellipse cx="118.20" cy="114.60" rx="4.20" ry="1.6" fill="#a0c0f0" fill-opacity="0.55" stroke="#2256ba" stroke-width="1.1"/>
<path d="M134.20,113.60 L134.20,129.80 A4.20,1.6 0 0 0 142.60,129.80 L142.60,113.60 Z" fill="url(#g0)" fill-opacity="0.8" stroke="#1f52b4" stroke-width="1.1" stroke-opacity="1"/><path d="M134.20,129.80 A4.20,1.6 0 0 1 142.60,129.80" fill="none" stroke="#1f52b4" stroke-width="0.6" opacity="0.5"/><ellipse cx="138.40" cy="113.60" rx="4.20" ry="1.6" fill="#a0c0f0" fill-opacity="0.55" stroke="#2256ba" stroke-width="1.1"/>
<path d="M154.40,112.70 L154.40,129.80 A4.20,1.6 0 0 0 162.80,129.80 L162.80,112.70 Z" fill="url(#g0)" fill-opacity="0.8" stroke="#1f52b4" stroke-width="1.1" stroke-opacity="1"/><path d="M154.40,129.80 A4.20,1.6 0 0 1 162.80,129.80" fill="none" stroke="#1f52b4" stroke-width="0.6" opacity="0.5"/><ellipse cx="158.60" cy="112.70" rx="4.20" ry="1.6" fill="#a0c0f0" fill-opacity="0.55" stroke="#2256ba" stroke-width="1.1"/>
<path d="M174.60,111.60 L174.60,129.80 A4.20,1.6 0 0 0 183.00,129.80 L183.00,111.60 Z" fill="url(#g0)" fill-opacity="0.8" stroke="#1f52b4" stroke-width="1.1" stroke-opacity="1"/><path d="M174.60,129.80 A4.20,1.6 0 0 1 183.00,129.80" fill="none" stroke="#1f52b4" stroke-width="0.6" opacity="0.5"/><ellipse cx="178.80" cy="111.60" rx="4.20" ry="1.6" fill="#a0c0f0" fill-opacity="0.55" stroke="#2256ba" stroke-width="1.1"/>
<path d="M194.80,109.30 L194.80,129.80 A4.20,1.6 0 0 0 203.20,129.80 L203.20,109.30 Z" fill="url(#g0)" fill-opacity="0.8" stroke="#1f52b4" stroke-width="1.1" stroke-opacity="1"/><path d="M194.80,129.80 A4.20,1.6 0 0 1 203.20,129.80" fill="none" stroke="#1f52b4" stroke-width="0.6" opacity="0.5"/><ellipse cx="199.00" cy="109.30" rx="4.20" ry="1.6" fill="#a0c0f0" fill-opacity="0.55" stroke="#2256ba" stroke-width="1.1"/>
<path d="M215.00,107.70 L215.00,129.80 A4.20,1.6 0 0 0 223.40,129.80 L223.40,107.70 Z" fill="url(#g0)" fill-opacity="0.8" stroke="#1f52b4" stroke-width="1.1" stroke-opacity="1"/><path d="M215.00,129.80 A4.20,1.6 0 0 1 223.40,129.80" fill="none" stroke="#1f52b4" stroke-width="0.6" opacity="0.5"/><ellipse cx="219.20" cy="107.70" rx="4.20" ry="1.6" fill="#a0c0f0" fill-opacity="0.55" stroke="#2256ba" stroke-width="1.1"/>
<path d="M235.20,106.40 L235.20,129.80 A4.20,1.6 0 0 0 243.60,129.80 L243.60,106.40 Z" fill="url(#g0)" fill-opacity="0.8" stroke="#1f52b4" stroke-width="1.1" stroke-opacity="1"/><path d="M235.20,129.80 A4.20,1.6 0 0 1 243.60,129.80" fill="none" stroke="#1f52b4" stroke-width="0.6" opacity="0.5"/><ellipse cx="239.40" cy="106.40" rx="4.20" ry="1.6" fill="#a0c0f0" fill-opacity="0.55" stroke="#2256ba" stroke-width="1.1"/>
<path d="M255.40,105.80 L255.40,129.80 A4.20,1.6 0 0 0 263.80,129.80 L263.80,105.80 Z" fill="url(#g0)" fill-opacity="0.8" stroke="#1f52b4" stroke-width="1.1" stroke-opacity="1"/><path d="M255.40,129.80 A4.20,1.6 0 0 1 263.80,129.80" fill="none" stroke="#1f52b4" stroke-width="0.6" opacity="0.5"/><ellipse cx="259.60" cy="105.80" rx="4.20" ry="1.6" fill="#a0c0f0" fill-opacity="0.55" stroke="#2256ba" stroke-width="1.1"/>
<text x="54.1" y="59.5" text-anchor="end" class="t" style="font-size:13.6px">110</text>
<text x="54.1" y="85.8" text-anchor="end" class="t" style="font-size:13.6px">90</text>
<text x="54.1" y="112.1" text-anchor="end" class="t" style="font-size:13.6px">70</text>
<text x="54.1" y="138.4" text-anchor="end" class="t" style="font-size:13.6px">50</text>
<text transform="translate(25.9,96.1) rotate(-90)" text-anchor="middle" class="t" style="font-size:13.4px">F-score (%)</text>
<text transform="translate(79.35,141.2) rotate(-90)" text-anchor="end" class="t">10</text>
<text transform="translate(99.59,141.2) rotate(-90)" text-anchor="end" class="t">200</text>
<text transform="translate(119.83,141.2) rotate(-90)" text-anchor="end" class="t">300</text>
<text transform="translate(140.07,141.2) rotate(-90)" text-anchor="end" class="t">400</text>
<text transform="translate(160.31,141.2) rotate(-90)" text-anchor="end" class="t">500</text>
<text transform="translate(180.55,141.2) rotate(-90)" text-anchor="end" class="t">600</text>
<text transform="translate(200.79,141.2) rotate(-90)" text-anchor="end" class="t">700</text>
<text transform="translate(221.03,141.2) rotate(-90)" text-anchor="end" class="t">800</text>
<text transform="translate(241.27,141.2) rotate(-90)" text-anchor="end" class="t">900</text>
<text transform="translate(261.51,141.2) rotate(-90)" text-anchor="end" class="t">1000</text>
<text x="152.75" y="185.3" text-anchor="middle" class="t">No of Samples</text>
<rect x="16.5" y="206.8" width="282.5" height="19.5" fill="#fff" stroke="#111" stroke-width="1.2"/>
<rect x="22.1" y="213.7" width="6.2" height="6.2" fill="#88b8f6"/>
<text x="30.6" y="220.3" class="l">SVM</text>
<rect x="61.8" y="213.7" width="6.2" height="6.2" fill="#fdc08a"/>
<text x="69.8" y="220.3" class="l">KNN</text>
<rect x="101.2" y="213.7" width="6.2" height="6.2" fill="#f27070"/>
<text x="109" y="220.3" class="l">Improved CNN</text>
<rect x="186.9" y="213.7" width="6.2" height="6.2" fill="#fde670"/>
<text x="194.5" y="220.3" class="l">DL</text>
<rect x="216.1" y="213.7" width="6.2" height="6.2" fill="#26dcc4"/>
<text x="224.4" y="220.3" class="l">Ensemble CNN</text>
</g>
<text x="161.5" y="543.1" text-anchor="middle" class="cap">(<tspan font-weight="bold">b</tspan>)</text>
</svg>
</body></html>
